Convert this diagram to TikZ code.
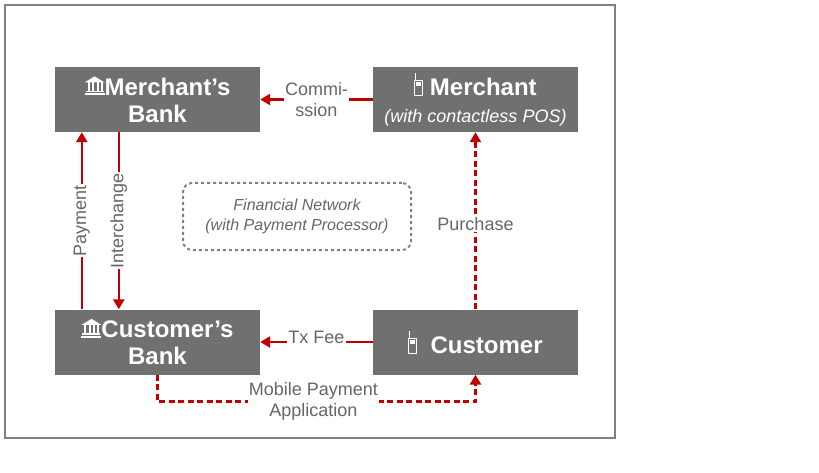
\documentclass[tikz,border=0pt]{standalone}
\usepackage{fontspec}
\setmainfont{Liberation Sans}
\usetikzlibrary{arrows.meta}
\definecolor{boxg}{HTML}{707070}
\definecolor{arr}{HTML}{C00000}
\definecolor{txt}{HTML}{666666}
\begin{document}
\begin{tikzpicture}[x=1pt,y=-1pt,
  box/.style={fill=boxg,draw=none,minimum width=205pt,minimum height=65pt,text=white,font=\fontsize{24}{27}\selectfont\bfseries,align=center,inner sep=0},
  con/.style={draw=arr,line width=2.5pt,-{Triangle[length=10pt,width=11pt]}},
  dcon/.style={con,dash pattern=on 6pt off 3.5pt},
  lbl/.style={text=txt,font=\fontsize{18}{21}\selectfont,align=center,inner sep=1pt}]
\newcommand\bankicon{\tikz[x=1pt,y=1pt,baseline=0pt]{\fill[white](0,0) rectangle (20,2);\fill[white](1,3) rectangle (19,4.5);\foreach \i in {3,7.5,12,16}{\fill[white](\i,4.5) rectangle (\i+2,13);}\fill[white](0,13)--(10,19)--(20,13)--cycle;}}
\newcommand\phoneicon{\tikz[x=1pt,y=1pt,baseline=0pt]{\draw[white,line width=1pt](0,0) rectangle (8,15);\draw[white,line width=1pt](1,15)--(1,22);\fill[white](1.5,9) rectangle (6.5,13);}}
\useasboundingbox (0,0) rectangle (819,473);
\draw[gray,line width=1.2pt] (5,5) rectangle (615,438);
\node[box] (mb) at (157.5,99.5) {\bankicon Merchant’s\\Bank};
\node[box] (m) at (475.5,99.5) {\phoneicon\ Merchant\\{\fontsize{18}{22}\selectfont\mdseries\itshape (with contactless POS)}};
\node[box] (cb) at (157.5,342) {\bankicon Customer’s\\Bank};
\node[box] (c) at (475.5,342) {\phoneicon\ \ Customer};
\node[draw=gray,dashed,line width=2pt,rounded corners=9pt,minimum width=228pt,minimum height=67pt,text=txt,font=\fontsize{16}{20}\selectfont\itshape,align=center] (fn) at (297,216.5) {Financial Network\\(with Payment Processor)};
\draw[con] (m.west) -- node[lbl,fill=white] {Commi-\\ssion} (mb.east);
\draw[con] (c.west) -- node[lbl,fill=white,yshift=5pt] {Tx Fee} (cb.east);
\draw[con] (cb.north west) ++(27,0) coordinate (p1) -- node[lbl,fill=white,rotate=90] {Payment} (p1 |- mb.south);
\draw[con] (mb.south west) ++(64,0) coordinate (p2) -- node[lbl,fill=white,rotate=90] {Interchange} (p2 |- cb.north);
\draw[dcon] (c.north) -- node[lbl,fill=white,pos=0.48] {Purchase} (m.south);
\draw[dcon] (cb.south) -- ++(0,27) coordinate (q1) -| node[lbl,fill=white,pos=0.245] {Mobile Payment\\Application} (c.south);
\end{tikzpicture}
\end{document}
